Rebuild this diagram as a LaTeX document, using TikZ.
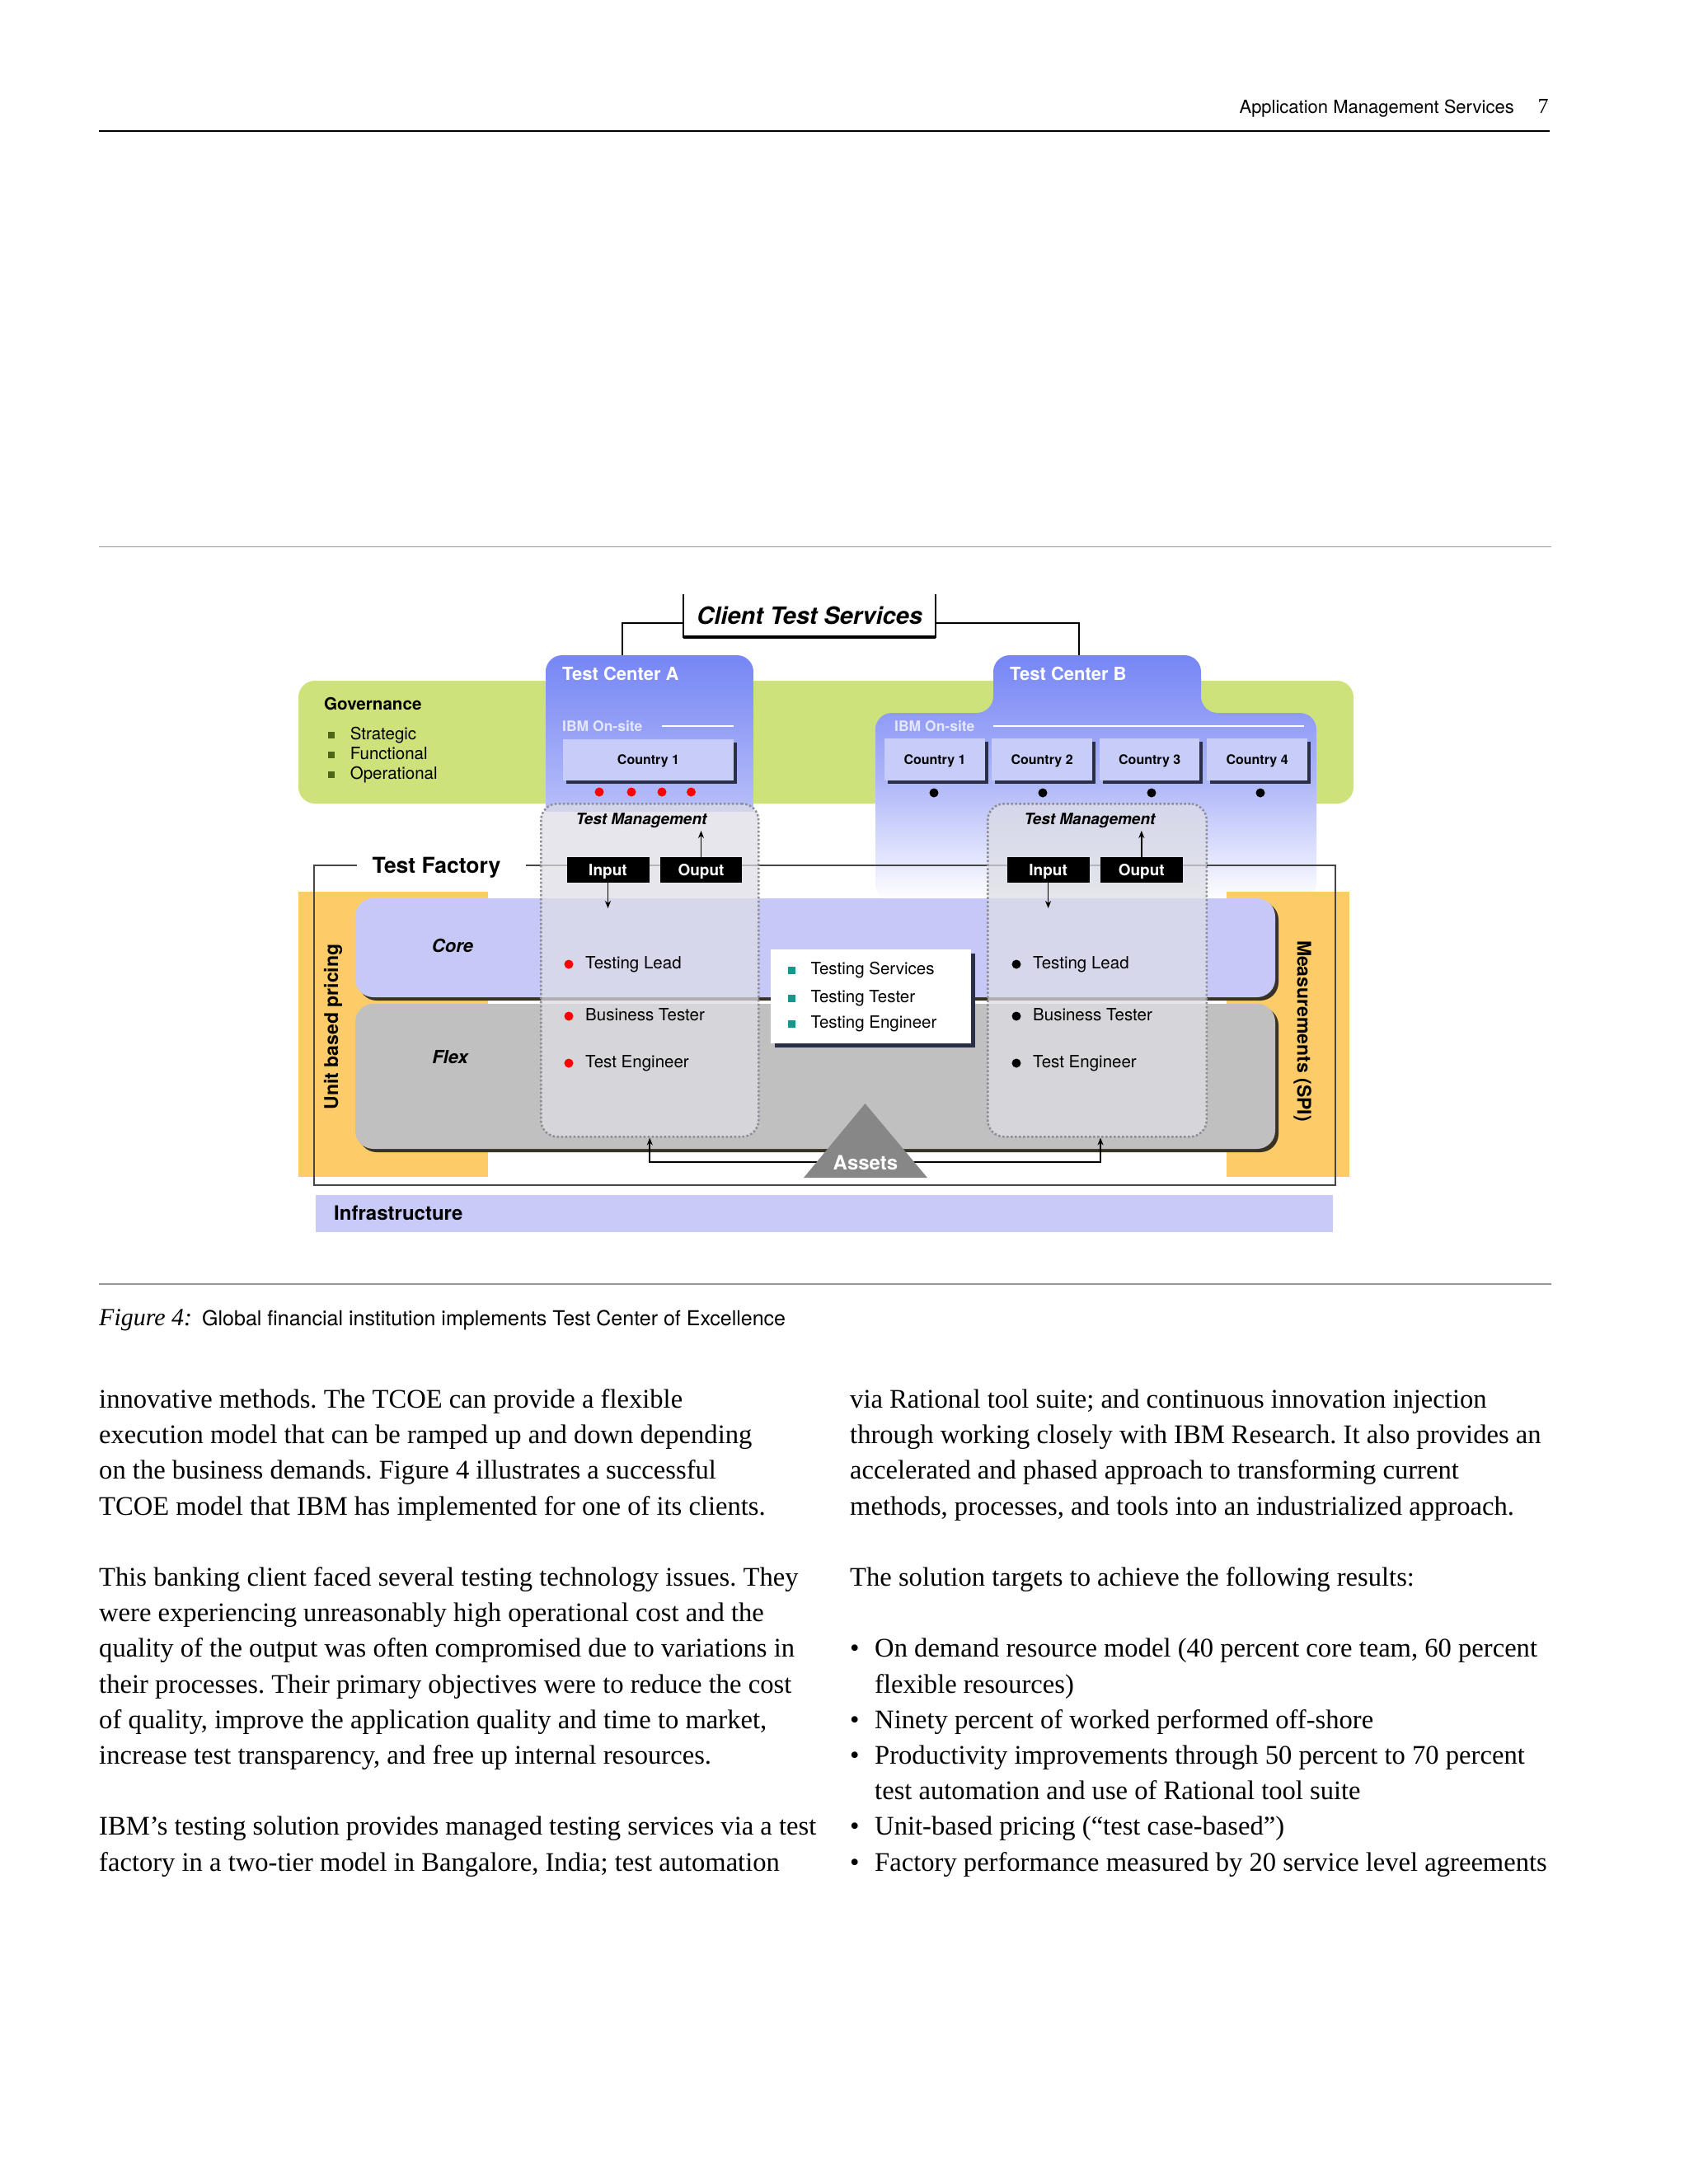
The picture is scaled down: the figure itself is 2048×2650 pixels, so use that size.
\documentclass[tikz,border=0pt]{standalone}
\usepackage{fontspec}
\setmainfont{Liberation Serif}
\setsansfont{TeX Gyre Heros}
\usetikzlibrary{arrows.meta}
\frenchspacing
\newcommand\myfs[1]{\fontsize{#1}{#1}\selectfont}
\definecolor{tcTop}{RGB}{118,134,245}
\definecolor{tcMid}{RGB}{172,180,248}
\definecolor{tcLow}{RGB}{192,198,249}
\definecolor{govgreen}{RGB}{206,226,124}
\definecolor{orangeb}{RGB}{253,203,104}
\definecolor{coreblue}{RGB}{198,201,248}
\definecolor{flexgrey}{RGB}{192,192,192}
\definecolor{infrab}{RGB}{200,202,248}
\definecolor{countryfill}{RGB}{199,204,248}
\definecolor{shadowc}{RGB}{42,46,70}
\definecolor{bandshadow}{RGB}{55,50,35}
\definecolor{dotfill}{RGB}{221,221,229}
\definecolor{dotc}{RGB}{140,140,148}
\definecolor{tealb}{RGB}{24,150,140}
\definecolor{assetsg}{RGB}{135,135,135}
\definecolor{oliveb}{RGB}{78,100,22}
\definecolor{ibmtxt}{RGB}{228,231,255}
\definecolor{rulegrey}{RGB}{150,150,150}
\definecolor{framec}{RGB}{70,70,70}
\newcommand\shadowcountry[6]{%
  \fill[shadowc] (#2+4,#3+4) rectangle (#2+#4+4,#3+#5+4);
  \node[cbox, anchor=north west, minimum width=#4, minimum height=#5] (#1) at (#2,#3) {#6};}
\newcommand\bodyline[4]{\node[body] (#1) at (#2,{1708.5+43.2*#3}) {#4};}
\begin{document}
\begin{tikzpicture}[x=1pt,y=-1pt,
  body/.style={anchor=base west, inner sep=0, font=\fontsize{32.6}{43.2}\selectfont},
  dlabel/.style={anchor=mid west, inner sep=0, font=\sffamily\myfs{20.5}},
  blabel/.style={inner sep=0, font=\sffamily\bfseries\myfs{22}},
  cbox/.style={fill=countryfill, inner sep=0, text depth=0pt, font=\sffamily\bfseries\myfs{16}},
  iobox/.style={fill=black, text=white, inner sep=0, text depth=0pt, minimum height=30.7, font=\sffamily\bfseries\myfs{19}},
  dotbox/.style={draw=dotc, line width=2.5pt, dash pattern=on 2.5pt off 2.5pt, rounded corners=20pt, fill=dotfill, fill opacity=0.73, inner sep=0},
  rdot/.style={circle, fill=red, minimum size=11, inner sep=0},
  kdot/.style={circle, fill=black, minimum size=11, inner sep=0},
  sq/.style={rectangle, fill=oliveb, minimum size=8, inner sep=0},
  tsq/.style={rectangle, fill=tealb, minimum size=9, inner sep=0},
  arr/.style={line width=1.5pt, -{Stealth[length=9pt,width=7pt]}},
]
\useasboundingbox (0,0) rectangle (2048,2650);
\fill[white] (0,0) rectangle (2048,2650);

% header
\draw[line width=2.5pt, black] (120,159) -- (1880,159);
\node[anchor=base east, inner sep=0, font=\sffamily\myfs{22}] (hdr) at (1837,137) {Application Management Services};
\node[anchor=base, inner sep=0, font=\myfs{26}] (pg) at (1872,137) {7};

% rules
\draw[line width=1.8pt, rulegrey] (120,663.5) -- (1882,663.5);
\draw[line width=1.8pt, rulegrey] (120,1558) -- (1882,1558);

% governance band
\fill[govgreen, rounded corners=20pt] (362,826) rectangle (1642,975);

% Test Center B
\path[top color=tcTop, bottom color=white, middle color=tcMid, rounded corners=20pt]
  (1062,1092) -- (1062,865) -- (1205,865) -- (1205,795) -- (1457,795) -- (1457,865) -- (1597,865) -- (1597,1092) -- cycle;
% Test Center A
\begin{scope}
\clip (600,700) rectangle (1000,984);
\path[top color=tcTop, bottom color=tcLow, rounded corners=20pt] (662,795) rectangle (914,1010);
\end{scope}

% client test services
\node[inner sep=0, minimum width=305.5, minimum height=52, font=\sffamily\bfseries\itshape\myfs{29}] (cts) at (982.25,747) {Client Test Services};
\draw[line width=2pt] (cts.north west) -- (cts.south west) -- (cts.south east) -- (cts.north east);
\draw[line width=3.5pt] (cts.south west) -- (cts.south east);
\coordinate (tcaTop) at (754.5,795);
\coordinate (tcbTop) at (1309,795);
\draw[line width=2pt] ([yshift=-9pt]cts.west) -| (tcaTop);
\draw[line width=2pt] ([yshift=-9pt]cts.east) -| (tcbTop);

% governance text
\node[anchor=mid west, inner sep=0, font=\sffamily\bfseries\myfs{20.6}] (gov) at (393,859) {Governance};
\node[sq] (gq1) at (401.7,892) {};
\node[sq] (gq2) at (401.7,916) {};
\node[sq] (gq3) at (401.7,940) {};
\node[dlabel] (gs1) at (424.6,895) {Strategic};
\node[dlabel] (gs2) at (424.6,919) {Functional};
\node[dlabel] (gs3) at (424.6,943) {Operational};

% test center labels
\node[blabel, anchor=mid west, text=white] (tcaL) at (682,823) {Test Center A};
\node[blabel, anchor=mid west, text=white] (tcbL) at (1225,823) {Test Center B};
\node[anchor=mid west, inner sep=0, text=ibmtxt, font=\sffamily\bfseries\myfs{17.5}] (ibma) at (682,885) {IBM On-site};
\node[anchor=mid west, inner sep=0, text=ibmtxt, font=\sffamily\bfseries\myfs{17.5}] (ibmb) at (1085,885) {IBM On-site};
\draw[white, line width=2pt] (803,881) -- (890,881);
\draw[white, line width=2pt] (1205,881) -- (1582,881);

% country boxes
\shadowcountry{ca1}{683}{896.7}{206.6}{50}{Country 1}
\shadowcountry{cb1}{1073}{895.5}{121.7}{51}{Country 1}
\shadowcountry{cb2}{1203}{895.5}{121.8}{51}{Country 2}
\shadowcountry{cb3}{1334}{895.5}{121}{51}{Country 3}
\shadowcountry{cb4}{1464}{895.5}{121.8}{51}{Country 4}

\node[rdot] (ra1) at (727,961) {};
\node[rdot] (ra2) at (766,961) {};
\node[rdot] (ra3) at (803,961) {};
\node[rdot] (ra4) at (838.5,961) {};
\node[kdot] (kb1) at (1133,962) {};
\node[kdot] (kb2) at (1265,962) {};
\node[kdot] (kb3) at (1397,962) {};
\node[kdot] (kb4) at (1529,962) {};

% orange bands
\fill[orangeb] (362,1082) rectangle (592,1428);
\fill[orangeb] (1488,1082) rectangle (1637,1428);

% test factory frame
\node[inner sep=0, font=\sffamily\bfseries\myfs{26.5}] (tf) at (529.5,1053) {Test Factory};
\draw[framec, line width=1.6pt] (433,1050) -- (381,1050) -- (381,1438) -- (1620,1438) -- (1620,1050) -- (638,1050);

% core and flex bands
\fill[bandshadow, rounded corners=22pt] (435,1094) rectangle (1551,1214);
\fill[coreblue, rounded corners=22pt] (431,1090) rectangle (1547,1210);
\fill[bandshadow, rounded corners=22pt] (435,1222) rectangle (1551,1398);
\fill[flexgrey, rounded corners=22pt] (431,1218) rectangle (1547,1394);
\node[blabel, font=\sffamily\bfseries\itshape\myfs{22}] (core) at (549,1147) {Core};
\node[blabel, font=\sffamily\bfseries\itshape\myfs{22}] (flex) at (546,1283) {Flex};

\node[rotate=90, inner sep=0, font=\sffamily\bfseries\myfs{23}] (ubp) at (404,1246) {Unit based pricing};
\node[rotate=-90, inner sep=0, font=\sffamily\bfseries\myfs{23}] (meas) at (1580,1251) {Measurements (SPI)};

% testing services box
\fill[shadowc] (940,1157) rectangle (1183,1271);
\node[fill=white, anchor=north west, minimum width=243, minimum height=114, inner sep=0] (tsbox) at (935,1152) {};
\node[tsq] (ts1) at (960.7,1177) {};
\node[tsq] (ts2) at (960.7,1211) {};
\node[tsq] (ts3) at (960.7,1242) {};
\node[dlabel] (tst1) at (983.3,1180) {Testing Services};
\node[dlabel] (tst2) at (983.3,1214) {Testing Tester};
\node[dlabel] (tst3) at (983.3,1245) {Testing Engineer};

% test management boxes
\node[dotbox, anchor=north west, minimum width=264, minimum height=404] (tma) at (655,974) {};
\node[dotbox, anchor=north west, minimum width=265.5, minimum height=404] (tmb) at (1197,974) {};
\node[inner sep=0, font=\sffamily\bfseries\itshape\myfs{19}] (tmla) at (778,996) {Test Management};
\node[inner sep=0, font=\sffamily\bfseries\itshape\myfs{19}] (tmlb) at (1322,996) {Test Management};

\node[iobox, minimum width=100] (ia) at (737.5,1055.5) {Input};
\node[iobox, minimum width=99.5] (oa) at (850.5,1055.5) {Ouput};
\node[iobox, minimum width=100.2] (ib) at (1271.6,1055.5) {Input};
\node[iobox, minimum width=99.6] (ob) at (1384.8,1055.5) {Ouput};
\draw[arr] (oa.north) -- ++(0,-32);
\draw[arr] (ob.north) -- ++(0,-32);
\draw[arr] (ia.south) -- ++(0,31);
\draw[arr] (ib.south) -- ++(0,31);

% roles
\node[rdot] (rda1) at (690,1170) {};
\node[rdot] (rda2) at (690,1233) {};
\node[rdot] (rda3) at (690,1290) {};
\node[dlabel] (roa1) at (710,1173) {Testing Lead};
\node[dlabel] (roa2) at (710,1236) {Business Tester};
\node[dlabel] (roa3) at (710,1293) {Test Engineer};
\node[kdot] (rdb1) at (1233,1170) {};
\node[kdot] (rdb2) at (1233,1233) {};
\node[kdot] (rdb3) at (1233,1290) {};
\node[dlabel] (rob1) at (1253,1173) {Testing Lead};
\node[dlabel] (rob2) at (1253,1236) {Business Tester};
\node[dlabel] (rob3) at (1253,1293) {Test Engineer};

% assets
\coordinate (assetsc) at (1050,1410);
\draw[arr, line width=1.6pt] (assetsc) -| (tma.south);
\draw[arr, line width=1.6pt] (assetsc) -| ([xshift=4pt]tmb.south);
\fill[assetsg] (975,1429) -- (1049.5,1339) -- (1125,1429) -- cycle;
\node[inner sep=0, text=white, font=\sffamily\bfseries\myfs{24}] (assets) at (1050,1411) {Assets};

% infrastructure
\fill[infrab] (382.5,1450) rectangle (1616.5,1495);
\node[anchor=mid west, inner sep=0, font=\sffamily\bfseries\myfs{24}] (infra) at (405,1478) {Infrastructure};

% caption
\node[anchor=base west, inner sep=0, font=\itshape\myfs{30}] (figl) at (120,1608) {Figure 4:};
\node[anchor=base west, inner sep=0, font=\sffamily\myfs{25}] (figt) at (245,1608) {Global financial institution implements Test Center of Excellence};

% body left
\bodyline{l0}{120}{0}{innovative methods. The TCOE can provide a flexible}
\bodyline{l1}{120}{1}{execution model that can be ramped up and down depending}
\bodyline{l2}{120}{2}{on the business demands. Figure 4 illustrates a successful}
\bodyline{l3}{120}{3}{TCOE model that IBM has implemented for one of its clients.}
\bodyline{l5}{120}{5}{This banking client faced several testing technology issues. They}
\bodyline{l6}{120}{6}{were experiencing unreasonably high operational cost and the}
\bodyline{l7}{120}{7}{quality of the output was often compromised due to variations in}
\bodyline{l8}{120}{8}{their processes. Their primary objectives were to reduce the cost}
\bodyline{l9}{120}{9}{of quality, improve the application quality and time to market,}
\bodyline{l10}{120}{10}{increase test transparency, and free up internal resources.}
\bodyline{l12}{120}{12}{IBM’s testing solution provides managed testing services via a test}
\bodyline{l13}{120}{13}{factory in a two-tier model in Bangalore, India; test automation}

% body right
\bodyline{r0}{1031}{0}{via Rational tool suite; and continuous innovation injection}
\bodyline{r1}{1031}{1}{through working closely with IBM Research. It also provides an}
\bodyline{r2}{1031}{2}{accelerated and phased approach to transforming current}
\bodyline{r3}{1031}{3}{methods, processes, and tools into an industrialized approach.}
\bodyline{r5}{1031}{5}{The solution targets to achieve the following results:}
\bodyline{b7}{1031}{7}{•}
\bodyline{b9}{1031}{9}{•}
\bodyline{b10}{1031}{10}{•}
\bodyline{b12}{1031}{12}{•}
\bodyline{b13}{1031}{13}{•}
\bodyline{r7}{1061}{7}{On demand resource model (40 percent core team, 60 percent}
\bodyline{r8}{1061}{8}{flexible resources)}
\bodyline{r9}{1061}{9}{Ninety percent of worked performed off-shore}
\bodyline{r10}{1061}{10}{Productivity improvements through 50 percent to 70 percent}
\bodyline{r11}{1061}{11}{test automation and use of Rational tool suite}
\bodyline{r12}{1061}{12}{Unit-based pricing (“test case-based”)}
\bodyline{r13}{1061}{13}{Factory performance measured by 20 service level agreements}
\end{tikzpicture}
\end{document}
